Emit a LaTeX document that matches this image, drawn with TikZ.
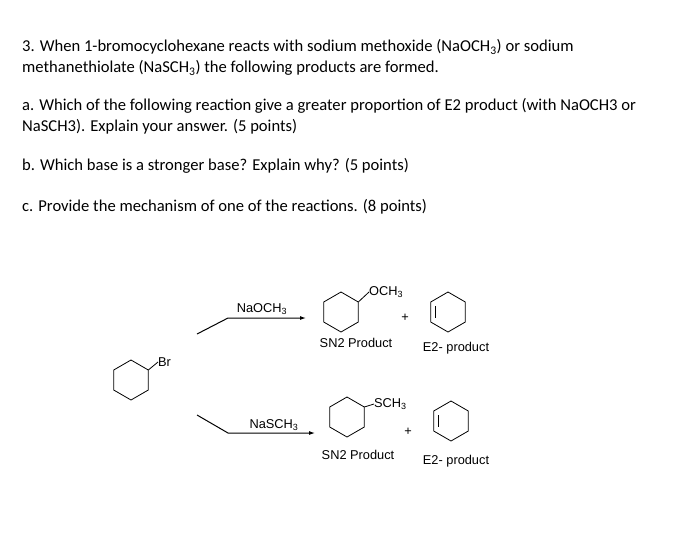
\documentclass[tikz,border=0pt]{standalone}
\usepackage{fontspec}
\setmainfont{Carlito}
\newfontfamily\arial{Liberation Sans}
\usetikzlibrary{arrows.meta}
\begin{document}
\begin{tikzpicture}[x=1pt,y=-1pt,
  q/.style={anchor=west,inner sep=0pt,font=\fontsize{16.6}{19}\selectfont},
  lab/.style={inner sep=0pt,font=\arial\fontsize{12.8}{15}\selectfont},
  bond/.style={line width=0.8pt},
  rxn/.style={line width=1pt,-{Latex[length=6pt,width=4pt]}}]
\useasboundingbox[fill=white] (0,0) rectangle (700,547);
\node[q] (t1) at (22,47) {3. When 1-bromocyclohexane reacts with sodium methoxide (NaOCH\textsubscript{3}) or sodium};
\node[q] (t2) at (22,68) {methanethiolate (NaSCH\textsubscript{3}) the following products are formed.};
\node[q] (t3) at (22,106) {a. Which of the following reaction give a greater proportion of E2 product (with NaOCH3 or};
\node[q] (t4) at (22,127) {NaSCH3). Explain your answer. (5 points)};
\node[q] (t5) at (22,166) {b. Which base is a stronger base? Explain why? (5 points)};
\node[q] (t6) at (22,207) {c. Provide the mechanism of one of the reactions. (8 points)};
% rings
\foreach \cx/\cy in {131/380, 341/312, 448/312, 347/417, 451/421}{
  \draw[bond] (\cx+0,\cy-20) -- (\cx+17.3,\cy-10) -- (\cx+17.3,\cy+10) -- (\cx,\cy+20) -- (\cx-17.3,\cy+10) -- (\cx-17.3,\cy-10) -- cycle;
}
% double bonds
\draw[bond] (448-13,312-6) -- (448-13,312+6);
\draw[bond] (451-13,421-6) -- (451-13,421+6);
% substituents
\coordinate (rbv) at (148.3,370);
\node[lab,anchor=west] (br) at (158,362) {Br};
\draw[bond] (rbv) -- (br.west);
\coordinate (r1v) at (358.3,302);
\node[lab,anchor=west] (och) at (369,292) {OCH\textsubscript{3}};
\draw[bond] (r1v) -- (och.west);
\coordinate (r3v) at (364.3,407);
\node[lab,anchor=west] (sch) at (374,404) {SCH\textsubscript{3}};
\draw[bond] (r3v) -- (sch.west);
\node[lab] (p1) at (405,318) {+};
\node[lab] (p2) at (408,432) {+};
\node[lab] (s1) at (356,343) {SN2 Product};
\node[lab] (e1) at (456,348) {E2- product};
\node[lab] (s2) at (358,455) {SN2 Product};
\node[lab] (e2) at (456,461) {E2- product};
% arrows
\coordinate (a1s) at (197,334); \coordinate (a1k) at (228,318); \coordinate (a1e) at (306,318);
\draw[rxn] (a1s) -- (a1k) -- (a1e);
\node[lab] (na1) at (262,309) {NaOCH\textsubscript{3}};
\coordinate (a2s) at (197,415); \coordinate (a2k) at (228,433); \coordinate (a2e) at (315,433);
\draw[rxn] (a2s) -- (a2k) -- (a2e);
\node[lab] (na2) at (274,425) {NaSCH\textsubscript{3}};
\end{tikzpicture}
\end{document}
